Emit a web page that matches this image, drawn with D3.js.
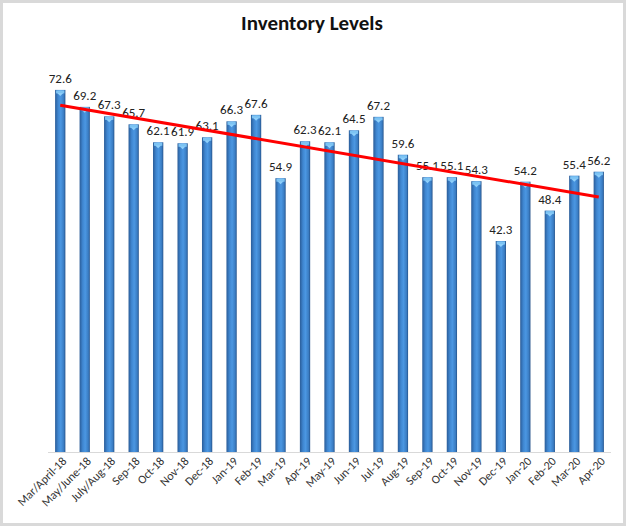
<!DOCTYPE html>
<html>
<head>
<meta charset="utf-8">
<script src="https://cdn.jsdelivr.net/npm/d3@7"></script>
<style>
  body { margin: 0; background: #fff; }
  svg { display: block; }
</style>
</head>
<body>
<div id="grafica"></div>
<script>
// meses y valores del indice de inventario
var categorias = ['Mar/April-18', 'May/June-18', 'July/Aug-18', 'Sep-18', 'Oct-18', 'Nov-18', 'Dec-18',
  'Jan-19', 'Feb-19', 'Mar-19', 'Apr-19', 'May-19', 'Jun-19', 'Jul-19', 'Aug-19', 'Sep-19', 'Oct-19',
  'Nov-19', 'Dec-19', 'Jan-20', 'Feb-20', 'Mar-20', 'Apr-20']
var valores = [72.6, 69.2, 67.3, 65.7, 62.1, 61.9, 63.1, 66.3, 67.6, 54.9, 62.3, 62.1, 64.5, 67.2,
  59.6, 55.1, 55.1, 54.3, 42.3, 54.2, 48.4, 55.4, 56.2]
var titulo = 'Inventory Levels'

var W = 626, H = 526
var fuente = 'Carlito, Lato, "Open Sans", sans-serif'
var svg = d3.select('#grafica').append('svg').attr('width', W).attr('height', H)

var defs = svg.append('defs')
var grad = defs.append('linearGradient').attr('id', 'barra').attr('x1', 0).attr('x2', 1).attr('y1', 0).attr('y2', 0)
grad.append('stop').attr('offset', '0%').attr('stop-color', '#2a5c98')
grad.append('stop').attr('offset', '30%').attr('stop-color', '#3f86d0')
grad.append('stop').attr('offset', '55%').attr('stop-color', '#4b97e2')
grad.append('stop').attr('offset', '85%').attr('stop-color', '#3a7cc2')
grad.append('stop').attr('offset', '100%').attr('stop-color', '#24528a')

// marco gris
svg.append('rect').attr('x', 1.5).attr('y', 1.5).attr('width', W - 3).attr('height', H - 3)
  .attr('fill', '#fff').attr('stroke', '#d9d9d9').attr('stroke-width', 3)

svg.append('text').attr('x', 312).attr('y', 30).attr('text-anchor', 'middle')
  .style('font-family', fuente).style('font-weight', 'bold')
  .style('font-size', '21px').attr('fill', '#111').text(titulo)

var x = d3.scaleBand().domain(categorias).range([48, 611]).paddingInner(0.58).paddingOuter(0.29)
var y = d3.scaleLinear().domain([0, 80]).range([452, 53])

// eje x
svg.append('line').attr('x1', 48).attr('x2', 611).attr('y1', 452.5).attr('y2', 452.5)
  .attr('stroke', '#d9d9d9')

var g = svg.append('g')
var barras = g.selectAll('g.bar').data(valores).enter().append('g').attr('class', 'bar')
barras.append('rect')
  .attr('x', function (d, i) { return x(categorias[i]) })
  .attr('y', function (d) { return y(d) })
  .attr('width', x.bandwidth())
  .attr('height', function (d) { return y(0) - y(d) })
  .attr('fill', 'url(#barra)')
// tapa superior con bisel
barras.append('rect')
  .attr('x', function (d, i) { return x(categorias[i]) + 1 })
  .attr('y', function (d) { return y(d) + 0.5 })
  .attr('width', x.bandwidth() - 2)
  .attr('height', 3)
  .attr('fill', '#7cc3f3')
barras.append('path')
  .attr('d', function (d, i) {
    var cx = x(categorias[i]) + x.bandwidth() / 2, t = y(d) + 3
    return 'M' + (cx - 3) + ',' + t + 'L' + (cx + 3) + ',' + t + 'L' + cx + ',' + (t + 3) + 'Z'
  })
  .attr('fill', '#8fd0fa')

// etiquetas de datos
g.selectAll('text.lbl').data(valores).enter().append('text').attr('class', 'lbl')
  .attr('x', function (d, i) { return x(categorias[i]) + x.bandwidth() / 2 })
  .attr('y', function (d) { return y(d) - 7 })
  .attr('text-anchor', 'middle')
  .style('font-family', fuente).style('font-size', '13px')
  .attr('fill', '#222')
  .text(function (d) { return d.toFixed(1) })

// etiquetas de categorias
g.selectAll('text.cat').data(categorias).enter().append('text').attr('class', 'cat')
  .attr('transform', function (d) {
    return 'translate(' + (x(d) + x.bandwidth() / 2 + 4) + ',459) rotate(-45)'
  })
  .attr('text-anchor', 'end')
  .attr('dy', '0.35em')
  .style('font-family', fuente).style('font-size', '12px')
  .attr('fill', '#333')
  .text(function (d) { return d })

// linea de tendencia (minimos cuadrados)
var n = valores.length
var mx = d3.mean(valores, function (d, i) { return i })
var my = d3.mean(valores)
var num = d3.sum(valores, function (d, i) { return (i - mx) * (d - my) })
var den = d3.sum(valores, function (d, i) { return (i - mx) * (i - mx) })
var b = num / den, a = my - b * mx
var tendencia = [0, n - 1].map(function (i) {
  return [x(categorias[i]) + x.bandwidth() / 2, y(a + b * i)]
})
svg.append('path').attr('d', d3.line()(tendencia))
  .attr('stroke', '#ff0000').attr('stroke-width', 3).attr('fill', 'none')
</script>
</body>
</html>
